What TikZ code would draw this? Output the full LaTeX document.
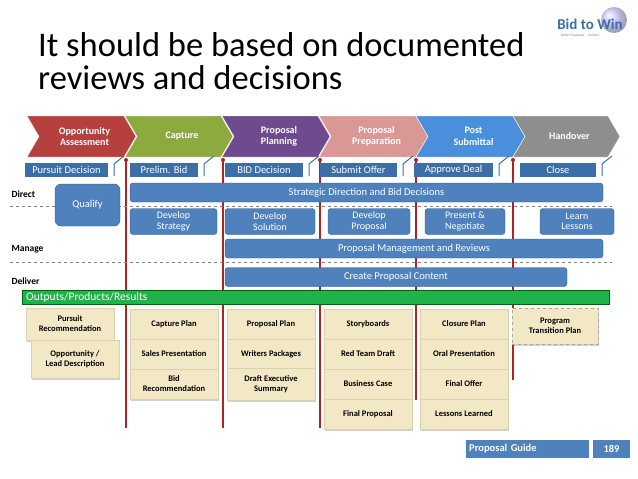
\documentclass[tikz,border=0pt]{standalone}
\usepackage{fontspec}
\setmainfont{Carlito}
\usetikzlibrary{shadows}
\definecolor{dblue}{HTML}{3C6FA8}
\definecolor{bbar}{HTML}{4F81BD}
\definecolor{cream}{HTML}{F3E8C6}
\definecolor{redl}{HTML}{B22222}
\definecolor{greenb}{HTML}{1FB34A}
\tikzset{
 bar/.style={draw=dblue!80!black,fill=bbar,rounded corners=3pt,text=white,font=\fontsize{10.5}{11}\selectfont,align=center,inner sep=0pt},
 dec/.style={fill=dblue,text=white,font=\fontsize{10.5}{11}\selectfont,inner sep=0pt},
 card/.style={fill=cream,draw=cream!90!black,drop shadow={shadow xshift=1pt,shadow yshift=-2pt,opacity=.35},font=\bfseries\fontsize{8.5}{10}\selectfont,align=center,inner sep=0pt},
 lab/.style={font=\bfseries\fontsize{9.5}{10}\selectfont,anchor=west},
 chev/.style={text=white,font=\bfseries\fontsize{10}{11.5}\selectfont,align=center},
}
\begin{document}
\begin{tikzpicture}[x=1pt,y=-1pt]
\useasboundingbox (0,0) rectangle (638,479);
\fill[white] (0,0) rectangle (638,479);
\node[anchor=west,font=\fontsize{34.5}{33}\selectfont,align=left,inner sep=0pt] (title) at (38,61) {It should be based on documented\\reviews and decisions};
\shade[ball color=blue!40!white,opacity=.5] (614,20) circle (13);
\node[font=\bfseries\fontsize{15}{15}\selectfont,text=dblue,inner sep=0pt] (logo) at (590,24) {Bid to Win};
\node[font=\fontsize{3.5}{3.5}\selectfont,text=gray,inner sep=0pt] (logo2) at (580,36) {Better Proposals $\cdot$ Tenders};
% chevrons
\foreach \xa/\xb/\c/\t/\n in {27/136/B5403D/{Opportunity\\Assessment}/c1,125/233/8DAA3F/Capture/c2,222/330/6E4A8E/{Proposal\\Planning}/c3,319/428/D99795/{Proposal\\Preparation}/c4,416/525/4A8FDB/{Post\\Submittal}/c5,513/620/8E8E8E/Handover/c6}{
 \definecolor{cc}{HTML}{\c}
 \fill[cc,draw=white] (\xa,116) -- (\xb-12,116) -- (\xb,136.5) -- (\xb-12,157) -- (\xa,157) -- (\xa+12,136.5) -- cycle;
 \node[chev] (\n) at ({(\xa+\xb)/2+3},136.5) {\t};
}
% red lines
\foreach \x/\yb in {126/428,223/428,320/428,416/400,513/380}{
 \draw[redl,line width=1.3pt] (\x,160) -- (\x,\yb);
 \fill[redl] (\x,160) circle (2);
}
% decisions
\foreach \xa/\xb/\t/\n in {25/108/Pursuit Decision/d1,130/198/Prelim. Bid/d2,225/303/BID Decision/d3,320/397/Submit Offer/d4,414/493/Approve Deal/d5,520/596/Close/d6}{
 \node[dec,minimum width={\xb-\xa},minimum height=14] (\n) at ({(\xa+\xb)/2},169.5) {\t};
 \draw[dblue,line width=1pt] (\xb+6,176) -- (\xb+6,164) -- (\xb+16,156);
}
% labels & dashed
\node[lab] (ldir) at (8,194) {Direct};
\node[lab] (lman) at (8,249) {Manage};
\node[lab] (ldel) at (8,281) {Deliver};
\draw[gray,dashed,line width=1pt] (10,206) -- (612,206);
\draw[gray,dashed,line width=1pt] (10,262) -- (612,262);
% bars
\node[bar,rounded corners=6pt,minimum width=65,minimum height=42] (qual) at (87.5,205) {Qualify};
\node[bar,minimum width=473,minimum height=19] (strat) at (366.5,192.5) {Strategic Direction and Bid Decisions};
\foreach \xa/\xb/\t/\n in {130/217/{Develop\\Strategy}/b1,225/315/{Develop\\Solution}/b2,328/410/{Develop\\Proposal}/b3,425/505/{Present \&\\Negotiate}/b4,540/614/{Learn\\Lessons}/b5}{
 \node[bar,minimum width={\xb-\xa},minimum height=26,font=\fontsize{10}{10.5}\selectfont] (\n) at ({(\xa+\xb)/2},221.5) {\t};
}
\node[bar,minimum width=378,minimum height=19] (mgmt) at (414,248.5) {Proposal Management and Reviews};
\node[bar,minimum width=342,minimum height=19] (cont) at (396,277) {Create Proposal Content};
\node[fill=greenb,draw=green!40!black,minimum width=587,minimum height=14,inner sep=0pt] (green) at (315.5,297) {};
\node[anchor=west,text=white,font=\fontsize{11.5}{11.5}\selectfont,inner sep=0pt] (gtxt) at (26,297) {Outputs/Products/Results};
% cards
\foreach \cx/\cy/\h/\t/\n in {70/324/32/{Pursuit\\Recommendation}/k1,75/359/38/{Opportunity /\\Lead Description}/k2,
 174/324/30/Capture Plan/k3,174/354/30/Sales Presentation/k4,174/384/30/{Bid\\Recommendation}/k5,
 271/324/30/Proposal Plan/k6,271/354/30/Writers Packages/k7,271/384/32/{Draft Executive\\Summary}/k8,
 368/324/30/Storyboards/k9,368/354/30/Red Team Draft/k10,368/384/30/Business Case/k11,368/414/30/Final Proposal/k12,
 464/324/30/Closure Plan/k13,464/354/30/Oral Presentation/k14,464/384/30/Final Offer/k15,464/414/30/Lessons Learned/k16}{
 \node[card,minimum width=88,minimum height=\h] (\n) at (\cx,\cy) {\t};
}
\node[card,draw=gray!70,dashed,minimum width=86,minimum height=36] (k17) at (555,326) {Program\\Transition Plan};
% footer
\node[fill=bbar,text=white,font=\bfseries\fontsize{10.5}{11}\selectfont,anchor=west,minimum width=123,minimum height=18,inner sep=3pt,text width=117] (pg) at (466,449) {Proposal Guide};
\node[fill=bbar,text=white,font=\bfseries\fontsize{10.5}{11}\selectfont,minimum width=37,minimum height=18,inner sep=0pt] (pn) at (611.5,449) {189};
\end{tikzpicture}
\end{document}
